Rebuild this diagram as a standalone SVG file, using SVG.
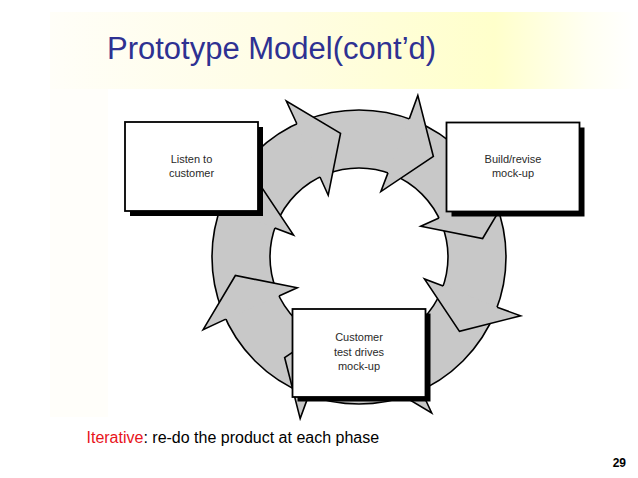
<svg xmlns="http://www.w3.org/2000/svg" xmlns:xlink="http://www.w3.org/1999/xlink" width="638" height="478" viewBox="0 0 638 478">
  <style>
    .ring { fill: #c8c8c8; stroke: #000; stroke-width: 1.6; stroke-linejoin: miter; }
    .box { fill: #fff; stroke: #000; stroke-width: 1.8; }
    .shadow { fill: #000; }
    .lbl { font-family: "Liberation Sans", Arial, sans-serif; font-size: 11px; fill: #2a2a2a; text-anchor: middle; }
  </style>
  <defs>
    <linearGradient id="band" gradientUnits="userSpaceOnUse" x1="50" y1="0" x2="635" y2="0">
      <stop offset="0" stop-color="#fffef8"/>
      <stop offset="0.4" stop-color="#fffde4"/>
      <stop offset="0.76" stop-color="#ffffcb"/>
      <stop offset="0.92" stop-color="#fffff2"/>
      <stop offset="1" stop-color="#ffffff"/>
    </linearGradient>
    <path id="head" d="M140.95,-41.75 L164.9,-48.85 L125,0 L65.63,-21.32 L84.88,-26.76"/>
  </defs>

  <rect width="638" height="478" fill="#fff"/>
  <rect x="50" y="12" width="585" height="77" fill="url(#band)"/>
  <rect x="50" y="89" width="58" height="328" fill="#fffefa"/>

  <text x="107" y="59" font-family="Liberation Sans, Arial, sans-serif" font-size="31" fill="#2e3192">Prototype Model(cont’d)</text>

  <g id="connectors">
    <path class="ring" fill-rule="evenodd" d="M212,257 a147,147 0 1,0 294,0 a147,147 0 1,0 -294,0 Z M270,257 a89,89 0 1,0 178,0 a89,89 0 1,0 -178,0 Z"/>
    <use xlink:href="#head" class="ring" transform="translate(359 257) rotate(-98.5)"/>
    <use xlink:href="#head" class="ring" transform="translate(359 257) rotate(-53.5)"/>
    <use xlink:href="#head" class="ring" transform="translate(359 257) rotate(-8.5)"/>
    <use xlink:href="#head" class="ring" transform="translate(359 257) rotate(36.5)"/>
    <use xlink:href="#head" class="ring" transform="translate(359 257) rotate(81.5)"/>
    <use xlink:href="#head" class="ring" transform="translate(359 257) rotate(126.5)"/>
    <use xlink:href="#head" class="ring" transform="translate(359 257) rotate(171.5)"/>
    <use xlink:href="#head" class="ring" transform="translate(359 257) rotate(216.5)"/>
  </g>

  <g id="listen">
    <rect class="shadow" x="130" y="127" width="133" height="89"/>
    <rect class="box" x="125" y="122" width="133" height="89"/>
    <text class="lbl" x="191.5" y="163">Listen to</text>
    <text class="lbl" x="191.5" y="177">customer</text>
  </g>

  <g id="build">
    <rect class="shadow" x="451.5" y="127.5" width="133" height="89"/>
    <rect class="box" x="446.5" y="122.5" width="133" height="89"/>
    <text class="lbl" x="513" y="163">Build/revise</text>
    <text class="lbl" x="513" y="177">mock-up</text>
  </g>

  <g id="test">
    <rect class="shadow" x="297.5" y="313.5" width="133" height="88"/>
    <rect class="box" x="292.5" y="309" width="133" height="88"/>
    <text class="lbl" x="359" y="341">Customer</text>
    <text class="lbl" x="359" y="355.5">test drives</text>
    <text class="lbl" x="359" y="370">mock-up</text>
  </g>

  <text x="86.5" y="442.5" font-family="Liberation Sans, Arial, sans-serif" font-size="16" fill="#000"><tspan fill="#e8141b">Iterative</tspan>: re-do the product at each phase</text>
  <text x="626" y="467" font-family="Liberation Sans, Arial, sans-serif" font-size="12" font-weight="bold" fill="#000" text-anchor="end">29</text>
</svg>
